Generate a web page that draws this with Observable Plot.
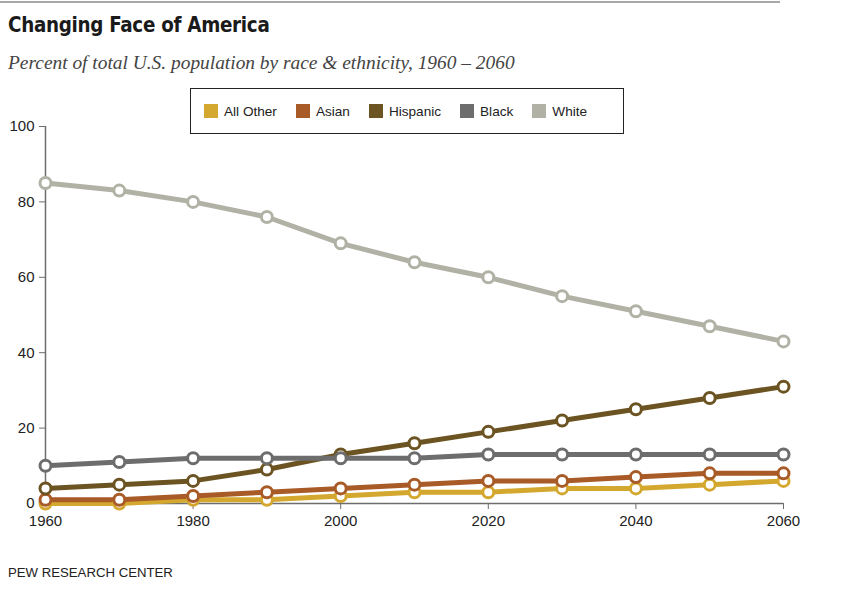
<!DOCTYPE html>
<html><head><meta charset="utf-8">
<script src="https://cdn.jsdelivr.net/npm/d3@7"></script>
<script src="https://cdn.jsdelivr.net/npm/@observablehq/plot@0.6"></script>
<style>
body{margin:0;background:#fff;}
#wrap{position:relative;width:862px;height:591px;overflow:hidden;font-family:"Liberation Sans",Arial,sans-serif;}
#rule{position:absolute;left:0;top:1px;width:780px;height:2px;background:#a8a8a8;}
#title{position:absolute;left:8px;top:13px;font-family:"DejaVu Sans Condensed","DejaVu Sans",sans-serif;font-stretch:condensed;font-weight:bold;font-size:20.4px;color:#1a1a1a;letter-spacing:-0.3px;}
#subtitle{position:absolute;left:8px;top:52px;font-family:"Liberation Serif",serif;font-style:italic;font-size:19.4px;color:#444;}
#legend{position:absolute;left:190px;top:88px;width:434px;height:46px;border:1px solid #222;display:flex;align-items:center;padding-left:13px;box-sizing:border-box;gap:19px;font-size:13.6px;color:#222;z-index:2;background:#fff;}
.item{display:flex;align-items:center;gap:6px;}
.sw{width:14px;height:14px;display:inline-block;}
#chart{position:absolute;left:0;top:110px;}
#foot{position:absolute;left:8px;top:565px;font-size:13.2px;color:#222;}
#chart svg [aria-label$="tick label"]{font-size:15px;}
</style></head>
<body><div id="wrap">
<div id="rule"></div>
<div id="title">Changing Face of America</div>
<div id="subtitle">Percent of total U.S. population by race &amp; ethnicity, 1960 – 2060</div>
<div id="legend"></div>
<div id="chart"></div>
<div id="foot">PEW RESEARCH CENTER</div>
</div>
<script>
const years = [1960,1970,1980,1990,2000,2010,2020,2030,2040,2050,2060];
const allOther = [0,0,1,1,2,3,3,4,4,5,6];
const asian = [1,1,2,3,4,5,6,6,7,8,8];
const hispanic = [4,5,6,9,13,16,19,22,25,28,31];
const black = [10,11,12,12,12,12,13,13,13,13,13];
const white = [85,83,80,76,69,64,60,55,51,47,43];
const seriesNames = ["All Other","Asian","Hispanic","Black","White"];
const seriesColors = ["#d4a82f","#a85a27","#6b5322","#6d6d6d","#b1b2a5"];
const yTicks = [0,20,40,60,80,100];
const xTicks = [1960,1980,2000,2020,2040,2060];

const seriesValues = [allOther, asian, hispanic, black, white];
const data = [];
seriesNames.forEach((name,i)=>years.forEach((yr,j)=>data.push({group:name, year:yr, value:seriesValues[i][j]})));

const leg = document.getElementById("legend");
seriesNames.forEach((n,i)=>{
  const it=document.createElement("div");it.className="item";
  it.innerHTML=`<span class="sw" style="background:${seriesColors[i]}"></span><span>${n}</span>`;
  leg.appendChild(it);
});

const color = {domain: seriesNames, range: seriesColors};
const plot = Plot.plot({
  width: 862, height: 440,
  marginTop: 16, marginBottom: 47, marginLeft: 45, marginRight: 79,
  style:{fontFamily:"'Liberation Sans',Arial,sans-serif", fontSize:"15px", color:"#222", background:"transparent"},
  x:{domain:[1960,2060], label:null},
  y:{domain:[0,100], label:null},
  color,
  marks:[
    Plot.ruleX([1960],{y1:0,y2:100,stroke:"#6d6d6d",strokeWidth:1.5}),
    Plot.ruleY([0],{x1:1960,x2:2060,stroke:"#6d6d6d",strokeWidth:1.5}),
    Plot.axisY({ticks:yTicks, tickSize:6, tickPadding:5, stroke:"#6d6d6d", tickFormat:d=>String(d), fill:"#222"}),
    Plot.axisX({ticks:xTicks, tickSize:6, tickPadding:6, stroke:"#6d6d6d", tickFormat:d=>String(d), fill:"#222"}),
    Plot.line(data,{x:"year",y:"value",z:"group",stroke:"group",strokeWidth:5,curve:"linear"}),
    Plot.dot(data,{x:"year",y:"value",stroke:"group",fill:"white",r:5.5,strokeWidth:3}),
  ]
});
document.getElementById("chart").appendChild(plot);
</script>
</body></html>
